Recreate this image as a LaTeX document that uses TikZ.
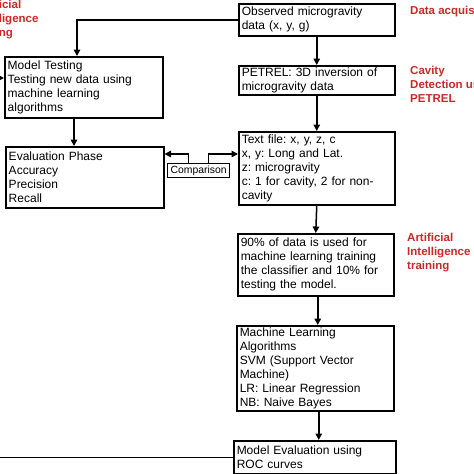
\documentclass[tikz,border=0pt]{standalone}
\usepackage{fontspec}
\setmainfont{Liberation Sans}
\usetikzlibrary{arrows.meta}
\definecolor{lblred}{RGB}{200,42,40}
\frenchspacing
\tikzset{
  box/.style={draw, line width=1.5pt, anchor=north west, align=left, inner xsep=3pt, inner ysep=0pt,
    font=\fontsize{12}{14}\selectfont\frenchspacing},
  cmpbox/.style={draw, line width=1.2pt, anchor=north west, align=center, inner sep=0pt,
    font=\fontsize{10.4}{12}\selectfont},
  lbl/.style={anchor=north west, align=left, inner sep=0pt, text=lblred,
    font=\fontsize{11.5}{14}\selectfont\bfseries},
  arr/.style={line width=1.5pt, -{Triangle[length=6.5pt,width=6.5pt]}}
}
\begin{document}
\begin{tikzpicture}[x=1pt,y=-1pt]
\useasboundingbox (0,0) rectangle (474,474);
\clip (0,0) rectangle (474,474);
% right column
\node[box, minimum width=156pt, minimum height=32pt, text width=150pt] (b1) at (238,3)
  {Observed microgravity\\data (x, y, g)};
\node[box, minimum width=156pt, minimum height=29pt, text width=150pt] (b2) at (238,65)
  {PETREL: 3D inversion of\\microgravity data};
\node[box, minimum width=156pt, minimum height=73pt, text width=150pt] (b3) at (238,131)
  {Text file: x, y, z, c\\x, y: Long and Lat.\\z: microgravity\\c: 1 for cavity, 2 for non-\\cavity};
\node[box, minimum width=156pt, minimum height=62pt, text width=150pt] (b4) at (237,233)
  {90\% of data is used for\\machine learning training\\the classifier and 10\% for\\testing the model.};
\node[box, minimum width=157pt, minimum height=85pt, text width=151pt] (b5) at (236,325)
  {Machine Learning\\Algorithms\\SVM (Support Vector\\Machine)\\LR: Linear Regression\\NB: Naive Bayes};
\node[box, minimum width=162pt, minimum height=33pt, text width=156pt] (b6) at (233,440)
  {Model Evaluation using\\ROC curves};
% left column
\node[box, minimum width=158pt, minimum height=61pt, text width=152pt] (mt) at (4,56)
  {Model Testing\\Testing new data using\\machine learning\\algorithms};
\node[box, minimum width=158pt, minimum height=61pt, text width=152pt] (ev) at (5,146)
  {Evaluation Phase\\Accuracy\\Precision\\Recall};
\node[cmpbox, minimum width=62pt, minimum height=14pt] (cmp) at (167,163) {Comparison};
% labels
\node[lbl] (l1) at (410,6) {Data acquisition};
\node[lbl] (l2) at (410,66) {Cavity\\Detection using\\PETREL};
\node[lbl] (l3) at (407,233) {Artificial\\Intelligence\\training};
\node[lbl] (l4) at (-25,0) {Artificial\\Intelligence\\testing};
% coordinates
\coordinate (j) at (0,154);
\coordinate (k) at (77,0);
\coordinate (m) at (74,0);
\coordinate (q) at (0,78);
\coordinate (far) at (-20,0);
% connectors
\draw[arr] (b1.south) -- (b2.north);
\draw[arr] (b2.south) -- (b3.north);
\draw[arr] (b3.south) -- (b4.north);
\draw[arr] ([xshift=2pt]b4.south) -- ([xshift=2pt]b4.south |- b5.north);
\draw[arr] ([xshift=3.5pt]b5.south) -- ([xshift=3.5pt]b5.south |- b6.north);
\draw[arr] (b1.west) -| (k |- mt.north);
\draw[arr] (m |- mt.south) -- (m |- ev.north);
\draw[arr] ([xshift=-10pt]cmp.north) |- (ev.east |- j);
\draw[arr] ([xshift=10pt]cmp.north) |- (b3.west |- j);
\draw[arr] (b6.west) -| (far |- q) -- (mt.west |- q);
\end{tikzpicture}
\end{document}
